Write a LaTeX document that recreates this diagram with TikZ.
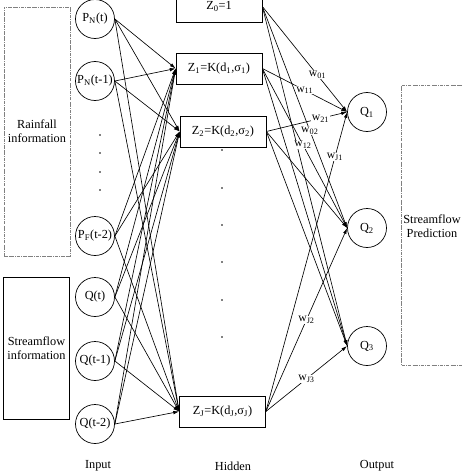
\documentclass[tikz,border=0pt]{standalone}
\usepackage{fontspec}
\setmainfont{Liberation Serif}
\usepackage{tikz}
\usetikzlibrary{arrows.meta}
\newcommand{\ix}[1]{\textsubscript{#1}}

\begin{document}
\begin{tikzpicture}[
  x=0.03cm,y=-0.03cm,
  font=\fontsize{10.5}{12}\selectfont,
  innode/.style={circle,draw,line width=0.6pt,minimum size=1.17cm,inner sep=0pt},
  outnode/.style={circle,draw,line width=0.6pt,minimum size=1.17cm,inner sep=0pt},
  hidbox/.style={draw,line width=0.6pt,minimum width=2.58cm,minimum height=0.93cm,inner sep=1pt},
  infobox/.style={draw=gray,densely dashdotted,line width=0.6pt},
  arr/.style={-{Latex[length=5pt,width=3pt]},line width=0.55pt},
  wlab/.style={fill=white,inner sep=0.5pt,font=\fontsize{10}{11}\selectfont}
]
\useasboundingbox (0,0) rectangle (474,474);
% info boxes
\node[infobox,align=center,minimum width=1.86cm,minimum height=7.47cm] (rinfo) at (37,131.5) {Rainfall\\information};
\node[draw,line width=0.6pt,align=center,minimum width=1.89cm,minimum height=4.26cm] (sinfo) at (36.5,348) {Streamflow\\information};
% input layer
\node[innode] (pnt) at (95,19) {P\ix{N}(t)};
\node[innode] (pnt1) at (95,81) {P\ix{N}(t-1)};
\node[innode] (pft2) at (95,236) {P\ix{F}(t-2)};
\node[innode] (qt) at (95,297) {Q(t)};
\node[innode] (qt1) at (95,361) {Q(t-1)};
\node[innode] (qt2) at (95,424) {Q(t-2)};
\foreach \y in {135,153,172,190}
  \fill (100,\y) circle (0.9);
% hidden layer
\node[hidbox] (z0) at (219,6.5) {Z\ix{0}=1};
\node[hidbox] (z1) at (219,68.5) {Z\ix{1}=K(d\ix{1},σ\ix{1})};
\node[hidbox] (z2) at (223,131.5) {Z\ix{2}=K(d\ix{2},σ\ix{2})};
\node[hidbox] (zj) at (222.5,411.5) {Z\ix{J}=K(d\ix{J},σ\ix{J})};
\foreach \y in {150,188,225,262,300,337}
  \fill (222,\y) circle (0.9);
% output layer
\node[outnode] (q1) at (367,112) {Q\ix{1}};
\node[outnode] (q2) at (367,228) {Q\ix{2}};
\node[outnode] (q3) at (367,346) {Q\ix{3}};
\draw[infobox] (462,85) -- (401,85) -- (401,365) -- (462,365);
\node[align=center] (pred) at (432,226) {Streamflow\\Prediction};
% connectors
\foreach \i in {pnt,pnt1,pft2,qt,qt1,qt2}
  \foreach \h in {z1,z2,zj}
    \draw[arr] (\i.east) -- (\h.west);
\foreach \h in {z0,z1,z2,zj}
  \foreach \o in {q1,q2,q3}
    \draw[arr] (\h.east) -- (\o.west);
% weights
\path (z0.east) -- (q1.west) node[wlab,pos=0.65] (w01) {w\ix{01}};
\path (z1.east) -- (q1.west) node[wlab,pos=0.5] (w11) {w\ix{11}};
\path (z2.east) -- (q1.west) node[wlab,pos=0.67] (w21) {w\ix{21}};
\path (z0.east) -- (q2.west) node[wlab,pos=0.56] (w02) {w\ix{02}};
\path (z1.east) -- (q2.west) node[wlab,pos=0.48] (w12) {w\ix{12}};
\path (zj.east) -- (q1.west) node[wlab,pos=0.85] (wj1) {w\ix{J1}};
\path (zj.east) -- (q2.west) node[wlab,pos=0.5] (wj2) {w\ix{J2}};
\path (zj.east) -- (q3.west) node[wlab,pos=0.5] (wj3) {w\ix{J3}};
% layer names
\node (linput) at (98,466) {Input};
\node (lhidden) at (233,466) {Hidden};
\node (loutput) at (377,466) {Output};
\end{tikzpicture}
\end{document}
